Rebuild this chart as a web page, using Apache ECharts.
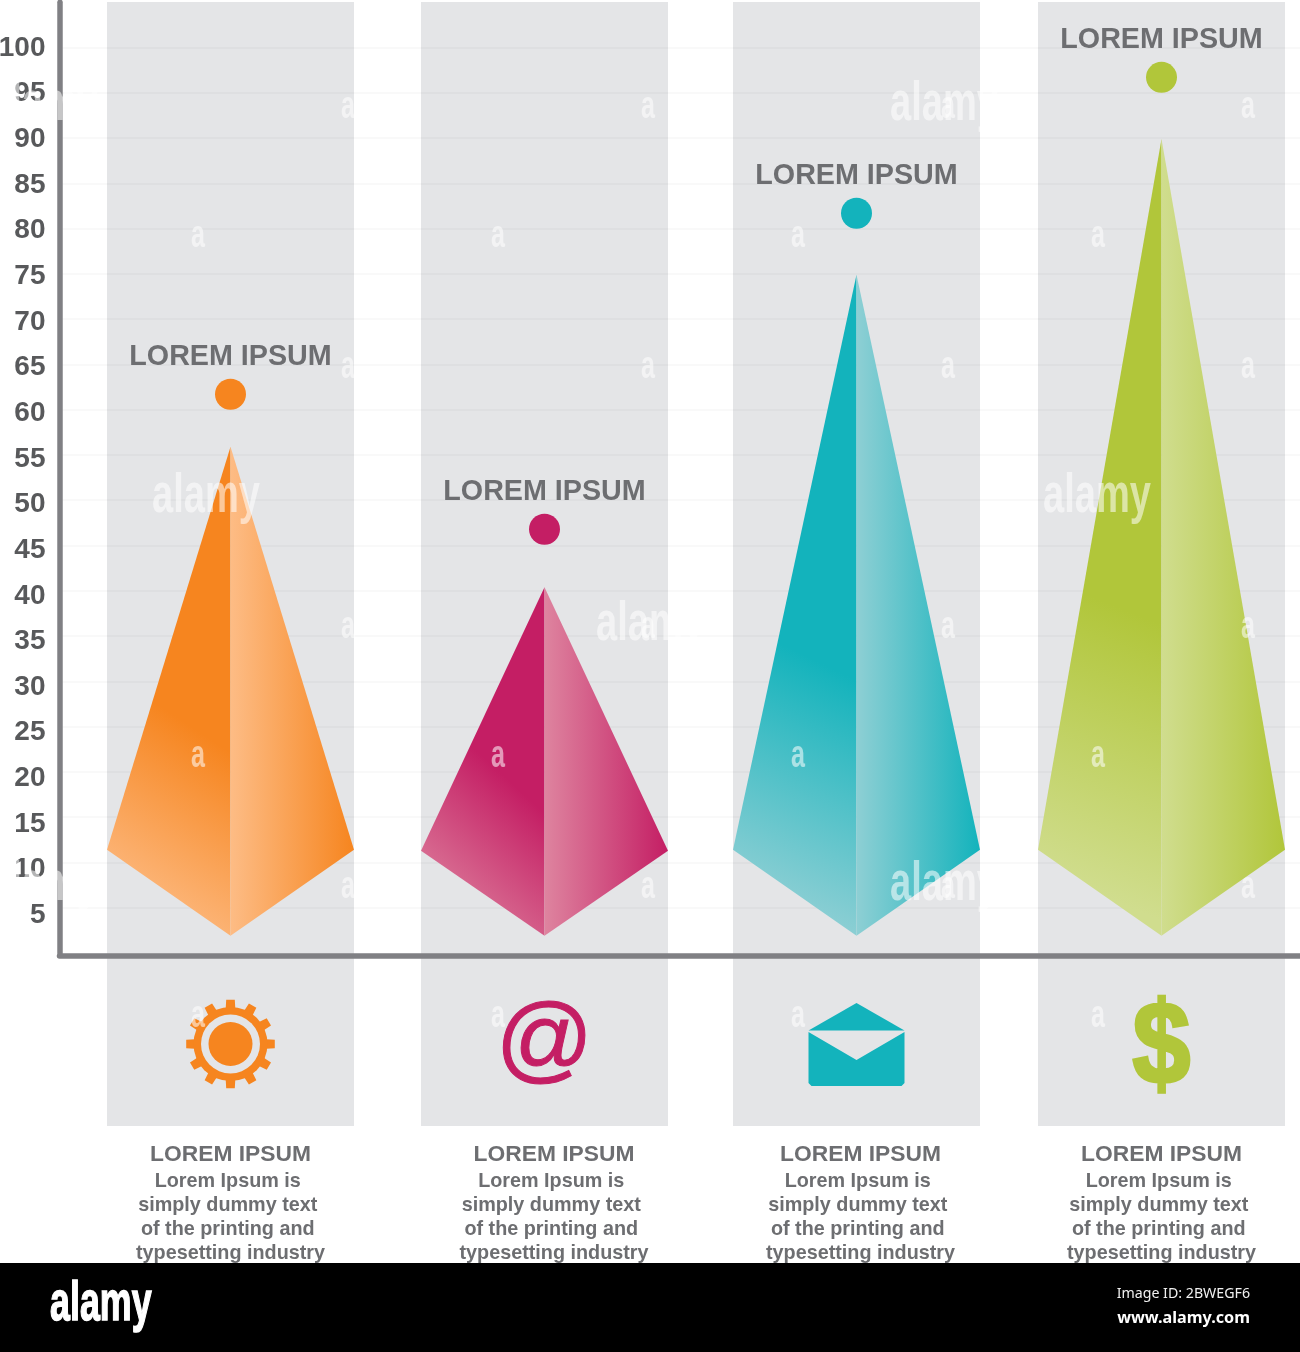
<!DOCTYPE html>
<html>
<head>
<meta charset="utf-8">
<title>Lorem Ipsum</title>
<style>
html, body { margin: 0; padding: 0; background: #fff; }
#main { width: 1300px; height: 1352px; }
</style>
<script src="https://cdn.jsdelivr.net/npm/echarts@6/dist/echarts.min.js"></script>
</head>
<body>
<div id="main"></div>
<script>
// data
var categories = ['LOREM IPSUM', 'LOREM IPSUM', 'LOREM IPSUM', 'LOREM IPSUM'];
var peakValues = [55.9, 40.4, 74.9, 89.9];
var shoulderValues = [11.4, 11.3, 11.4, 11.4];
var tipValues = [1.9, 1.9, 1.9, 1.9];
var dotValues = [61.7, 46.8, 81.7, 96.7];
var captionTitles = ['LOREM IPSUM', 'LOREM IPSUM', 'LOREM IPSUM', 'LOREM IPSUM'];
var captionLines = ['Lorem Ipsum is ', 'simply dummy text ', 'of the printing and ', 'typesetting industry'];

// layout, in x axis units (the x axis runs in page pixels)
var columnCentres = [230.5, 544.5, 856.5, 1161.5];
var captionCentres = [230.5, 554, 860.5, 1161.5];
var halfWidth = 123.5;
var Y_MAX = 104.99;

// [strong, light]
var palette = [
    ['#F6851F', '#FDBC85'],
    ['#C41E64', '#DE849F'],
    ['#13B3BC', '#8ECFD4'],
    ['#B1C63A', '#D0DD8E']
];
var GREY = '#E4E5E7';
var TEXT = '#6D6E71';

function grad(x, y, x2, y2, from, to) {
    return new echarts.graphic.LinearGradient(x, y, x2, y2, [
        { offset: 0, color: from },
        { offset: 1, color: to }
    ]);
}

function renderColumn(params, api) {
    var c = api.value(0);
    var top = api.coord([c - halfWidth, Y_MAX]);
    var base = api.coord([c + halfWidth, 0]);
    return {
        type: 'rect',
        shape: { x: top[0], y: 2, width: base[0] - top[0], height: base[1] + 173 - 2 },
        style: { fill: GREY }
    };
}

function renderPyramid(params, api) {
    var c = api.value(0);
    var i = params.dataIndex;
    var apex = api.coord([c, api.value(1)]);
    var left = api.coord([c - halfWidth, api.value(2)]);
    var right = api.coord([c + halfWidth, api.value(2)]);
    var tip = api.coord([c, api.value(3)]);
    var strong = palette[i][0], light = palette[i][1];
    return {
        type: 'group',
        children: [{
            type: 'polygon',
            shape: { points: [apex, left, tip] },
            style: { fill: grad(0.02, 0.92, 0.85, 0.6, light, strong) }
        }, {
            type: 'polygon',
            shape: { points: [apex, right, tip] },
            style: { fill: grad(0, 0, 1, 0, light, strong) }
        }]
    };
}

function gearPoints(cx, cy) {
    var pts = [];
    for (var k = 0; k < 12; k++) {
        var a = -Math.PI / 2 + k * Math.PI / 6;
        var da1 = 4.8 / 36, da2 = 4.3 / 44.5;
        pts.push([cx + 36 * Math.cos(a - da1), cy + 36 * Math.sin(a - da1)]);
        pts.push([cx + 44.5 * Math.cos(a - da2), cy + 44.5 * Math.sin(a - da2)]);
        pts.push([cx + 44.5 * Math.cos(a + da2), cy + 44.5 * Math.sin(a + da2)]);
        pts.push([cx + 36 * Math.cos(a + da1), cy + 36 * Math.sin(a + da1)]);
    }
    return pts;
}

function renderIcon(params, api) {
    var i = params.dataIndex;
    var p = api.coord([api.value(0), 0]);
    var cx = p[0], cy = p[1] + 91;
    var col = palette[i][0];
    var kids;
    if (i == 0) {
        kids = [
            { type: 'polygon', shape: { points: gearPoints(cx, cy) }, style: { fill: col } },
            { type: 'circle', shape: { cx: cx, cy: cy, r: 37 }, style: { fill: col } },
            { type: 'circle', shape: { cx: cx, cy: cy, r: 29.5 }, style: { fill: GREY } },
            { type: 'circle', shape: { cx: cx, cy: cy, r: 22 }, style: { fill: col } }
        ];
    } else if (i == 1) {
        kids = [{
            type: 'text',
            style: { text: '@', x: cx, y: cy + 1, fill: col, stroke: col, lineWidth: 1, align: 'center', verticalAlign: 'middle',
                font: '400 96px "Liberation Sans"' }
        }];
    } else if (i == 2) {
        kids = [{
            type: 'polygon',
            shape: { points: [[cx, cy - 41], [cx + 48, cy - 13.5], [cx - 48, cy - 13.5]] },
            style: { fill: col }
        }, {
            type: 'polygon',
            shape: { points: [[cx - 48, cy - 12], [cx, cy + 16], [cx + 48, cy - 12], [cx + 48, cy + 39], [cx + 45, cy + 42], [cx - 45, cy + 42], [cx - 48, cy + 39]] },
            style: { fill: col }
        }];
    } else {
        kids = [{
            type: 'text',
            x: cx,
            y: cy,
            scaleY: 1.13,
            style: { text: '$', x: 0, y: 6, fill: col, stroke: col, lineWidth: 3, align: 'center', verticalAlign: 'middle',
                font: '700 104px "Liberation Sans"' }
        }];
    }
    return { type: 'group', children: kids };
}

function renderCaption(params, api) {
    var i = params.dataIndex;
    var p = api.coord([captionCentres[i], 0]);
    var kids = [{
        type: 'text',
        style: { text: captionTitles[i], x: p[0], y: p[1] + 202, fill: TEXT, align: 'center', verticalAlign: 'middle',
            font: '700 22.8px "Liberation Sans"' }
    }];
    for (var n = 0; n < captionLines.length; n++) {
        kids.push({
            type: 'text',
            style: { text: captionLines[n], x: p[0], y: p[1] + 228.5 + n * 24, fill: TEXT, align: 'center', verticalAlign: 'middle',
                font: '700 19.8px "Liberation Sans"' }
        });
    }
    return { type: 'group', children: kids };
}

function watermark(x, y, big) {
    return {
        type: 'text',
        z: 50,
        x: x,
        y: y,
        scaleX: big ? 0.68 : 0.66,
        style: {
            text: big ? 'alamy' : 'a', x: 0, y: 0, fill: 'rgba(255,255,255,0.55)', align: 'center', verticalAlign: 'middle',
            font: big ? '700 56px "Liberation Sans"' : '700 38px "Liberation Sans"'
        }
    };
}

function buildMarks() {
    var marks = [];
    var bigOnes = [[44, 105], [944, 105], [206, 497], [1097, 497], [650, 625], [44, 885], [944, 885]];
    for (var b = 0; b < bigOnes.length; b++) {
        marks.push(watermark(bigOnes[b][0], bigOnes[b][1], true));
    }
    for (var k = 0; k < 4; k++) {
        var ys = [237, 757, 1017];
        for (var s = 0; s < ys.length; s++) marks.push(watermark(198 + k * 300, ys[s], false));
        var ys2 = [108, 368, 628, 888];
        for (var t = 0; t < ys2.length; t++) marks.push(watermark(348 + k * 300, ys2[t], false));
    }
    return marks;
}

var pyramidData = [], dotData = [];
for (var i = 0; i < categories.length; i++) {
    pyramidData.push([columnCentres[i], peakValues[i], shoulderValues[i], tipValues[i]]);
    dotData.push({ value: [columnCentres[i], dotValues[i]], itemStyle: { color: palette[i][0], opacity: 1 }, name: categories[i] });
}

var myChart = echarts.init(document.getElementById('main'), null, { renderer: 'canvas' });
var option = {
    animation: false,
    backgroundColor: '#fff',
    // second grid only carries the tick labels, which sit a little off the gridlines in the picture
    grid: [
        { left: 59.5, right: 0, top: 2.3, height: 950.7, outerBoundsMode: 'none' },
        { left: 59.5, right: 0, top: 48, height: 913, outerBoundsMode: 'none' }
    ],
    xAxis: [{
        type: 'value',
        gridIndex: 0,
        min: 59.5,
        max: 1300,
        offset: 2.7,
        z: 1,
        splitLine: { show: false },
        axisTick: { show: false },
        axisLabel: { show: false },
        axisLine: { show: true, onZero: false, lineStyle: { color: '#808084', width: 5.5, cap: 'round' } }
    }, {
        type: 'value',
        gridIndex: 1,
        min: 0,
        max: 1,
        show: false
    }],
    yAxis: [{
        type: 'value',
        gridIndex: 0,
        min: 0,
        max: Y_MAX,
        interval: 5,
        z: 1,
        axisTick: { show: false },
        axisLabel: { show: false },
        axisLine: { show: true, onZero: false, lineStyle: { color: '#808084', width: 5.5, cap: 'round' } },
        splitLine: { show: true, showMinLine: false, showMaxLine: false, lineStyle: { color: 'rgba(0,0,0,0.035)', width: 1.5 } }
    }, {
        type: 'value',
        gridIndex: 1,
        min: 0,
        max: 100,
        interval: 5,
        z: 1,
        axisTick: { show: false },
        axisLine: { show: false },
        splitLine: { show: false },
        axisLabel: {
            margin: 14,
            color: '#58595B',
            fontFamily: 'Liberation Sans',
            fontWeight: 'bold',
            fontSize: 28,
            showMinLabel: false
        }
    }],
    series: [
        { type: 'custom', z: 0, clip: false, silent: true, data: pyramidData, renderItem: renderColumn, encode: { x: 0, y: 1 } },
        { type: 'custom', z: 2, clip: false, silent: true, data: pyramidData, renderItem: renderPyramid, encode: { x: 0, y: 1 } },
        { type: 'custom', z: 2, clip: false, silent: true, data: pyramidData, renderItem: renderIcon, encode: { x: 0, y: 1 } },
        { type: 'custom', z: 2, clip: false, silent: true, data: pyramidData, renderItem: renderCaption, encode: { x: 0, y: 1 } },
        {
            type: 'scatter',
            z: 3,
            symbolSize: 31,
            data: dotData,
            label: {
                show: true,
                position: 'top',
                distance: 7,
                formatter: '{b}',
                color: TEXT,
                opacity: 1,
                fontFamily: 'Liberation Sans',
                fontWeight: 'bold',
                fontSize: 28.7
            }
        }
    ],
    graphic: {
        elements: buildMarks().concat([
            { type: 'rect', z: 100, shape: { x: 0, y: 1263, width: 1300, height: 89 }, style: { fill: '#000' } },
            { type: 'text', z: 101, x: 50, y: 1305, scaleX: 0.64, style: { text: 'alamy', x: 0, y: 0, fill: '#fff', stroke: '#fff', lineWidth: 1.5, verticalAlign: 'middle', font: '700 56px "Liberation Sans"' } },
            { type: 'text', z: 101, style: { text: 'Image ID: 2BWEGF6', x: 1250, y: 1294, fill: '#f0f0f0', align: 'right', verticalAlign: 'middle', font: '400 14.2px "Noto Sans"' } },
            { type: 'text', z: 101, style: { text: 'www.alamy.com', x: 1250, y: 1318, fill: '#fff', align: 'right', verticalAlign: 'middle', font: '700 16.2px "Noto Sans"' } }
        ])
    }
};
myChart.setOption(option);
</script>
</body>
</html>
